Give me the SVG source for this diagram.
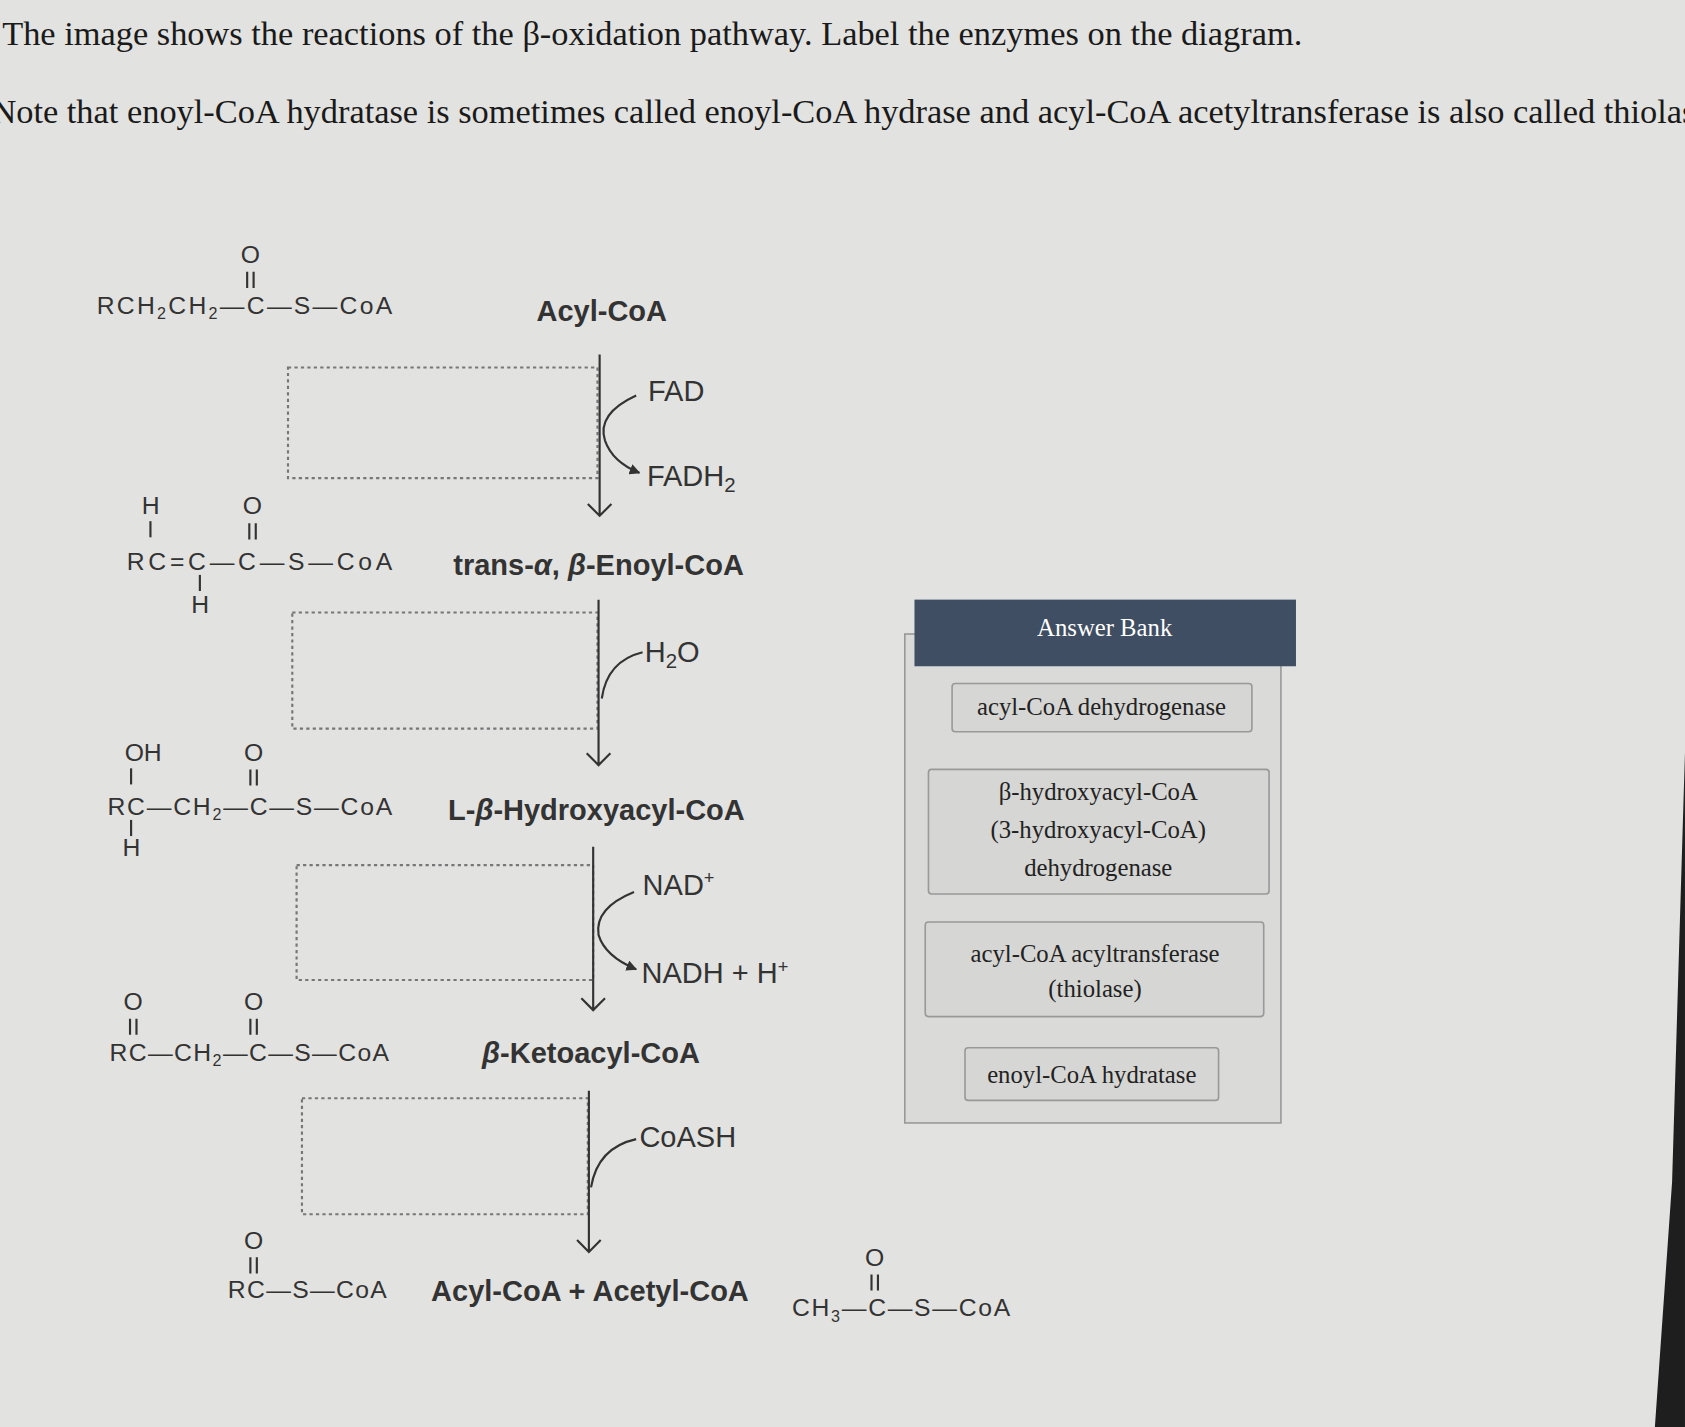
<svg xmlns="http://www.w3.org/2000/svg" width="1685" height="1427" viewBox="0 0 1685 1427">
<defs>
<style>
.t{font-family:"Liberation Serif",serif;font-size:32px;fill:#1a1a1a}
.c{font-family:"Liberation Sans",Arial,sans-serif;font-size:23px;fill:#333}
.b{font-family:"Liberation Sans",Arial,sans-serif;font-size:27px;font-weight:bold;fill:#333;text-anchor:middle}
.p{font-family:"Liberation Sans",Arial,sans-serif;font-size:27px;fill:#333}
.box{fill:none;stroke:#777;stroke-width:2;stroke-dasharray:3 3}
.ln{stroke:#333;stroke-width:2;fill:none}
.btn{fill:#d6d6d4;stroke:#999;stroke-width:1.5}
.bt{font-family:"Liberation Serif",serif;font-size:23px;fill:#222;text-anchor:middle}
</style>
<marker id="sh" viewBox="0 0 10 10" refX="9" refY="5" markerWidth="10" markerHeight="10" orient="auto" markerUnits="userSpaceOnUse">
<path d="M0 0 L10 5 L0 10 Z" fill="#333"/></marker>
</defs>
<rect width="1685" height="1427" fill="#e2e2e0"/>
<g transform="scale(1.0746)">
<polygon points="1568,700 1556,1100 1540,1328 1568,1328" fill="#1e1e1e"/>
<text class="t" x="2" y="42">The image shows the reactions of the β-oxidation pathway. Label the enzymes on the diagram.</text>
<text class="t" x="-8" y="114">Note that enoyl-CoA hydratase is sometimes called enoyl-CoA hydrase and acyl-CoA acetyltransferase is also called thiolase.</text>

<g id="s1"><text class="c" x="90" y="292" textLength="275" lengthAdjust="spacing">RCH<tspan font-size="15" dy="5">2</tspan><tspan dy="-5">CH</tspan><tspan font-size="15" dy="5">2</tspan><tspan dy="-5">—C—S—CoA</tspan></text>
<text class="c" x="224" y="245">O</text><path class="ln" d="M230 253V268M236 253V268" stroke-width="1.5"/>
<text class="b" x="560" y="299">Acyl-CoA</text></g>

<g id="s2"><text class="c" x="118" y="530" textLength="247" lengthAdjust="spacing">RC=C—C—S—CoA</text>
<text class="c" x="132" y="478">H</text><path class="ln" d="M140 485V500" stroke-width="1.5"/>
<text class="c" x="226" y="478">O</text><path class="ln" d="M232 487V502M238 487V502" stroke-width="1.5"/>
<path class="ln" d="M186 535V550" stroke-width="1.5"/><text class="c" x="178" y="570">H</text>
<text class="b" x="557" y="535">trans-<tspan font-style="italic">α</tspan>, <tspan font-style="italic">β</tspan>-Enoyl-CoA</text></g>

<g id="s3"><text class="c" x="100" y="758" textLength="265" lengthAdjust="spacing">RC—CH<tspan font-size="15" dy="5">2</tspan><tspan dy="-5">—C—S—CoA</tspan></text>
<text class="c" x="116" y="708">OH</text><path class="ln" d="M122 715V730" stroke-width="1.5"/>
<text class="c" x="227" y="708">O</text><path class="ln" d="M233 716V731M239 716V731" stroke-width="1.5"/>
<path class="ln" d="M122 763V778" stroke-width="1.5"/><text class="c" x="114" y="797">H</text>
<text class="b" x="555" y="763">L-<tspan font-style="italic">β</tspan>-Hydroxyacyl-CoA</text></g>

<g id="s4"><text class="c" x="102" y="987" textLength="260" lengthAdjust="spacing">RC—CH<tspan font-size="15" dy="5">2</tspan><tspan dy="-5">—C—S—CoA</tspan></text>
<text class="c" x="115" y="940">O</text><path class="ln" d="M121 948V963M127 948V963" stroke-width="1.5"/>
<text class="c" x="227" y="940">O</text><path class="ln" d="M233 948V963M239 948V963" stroke-width="1.5"/>
<text class="b" x="550" y="989"><tspan font-style="italic">β</tspan>-Ketoacyl-CoA</text></g>

<g id="s5"><text class="c" x="212" y="1208" textLength="148" lengthAdjust="spacing">RC—S—CoA</text>
<text class="c" x="227" y="1162">O</text><path class="ln" d="M233 1170V1185M239 1170V1185" stroke-width="1.5"/>
<text class="b" x="549" y="1211">Acyl-CoA + Acetyl-CoA</text>
<text class="c" x="737" y="1225" textLength="203" lengthAdjust="spacing">CH<tspan font-size="15" dy="5">3</tspan><tspan dy="-5">—C—S—CoA</tspan></text>
<text class="c" x="805" y="1178">O</text><path class="ln" d="M811 1186V1201M817 1186V1201" stroke-width="1.5"/></g>

<g id="boxes">
<rect class="box" x="268" y="342" width="288" height="103"/>
<rect class="box" x="272" y="570" width="284" height="108"/>
<rect class="box" x="276" y="805" width="276" height="107"/>
<rect class="box" x="281" y="1022" width="266" height="108"/>
</g>

<g id="connectors">
<path class="ln" d="M558 330V480M547 469L558 480L569 469"/>
<path class="ln" d="M592 368Q555 385 563 410Q570 430 595 440" marker-end="url(#sh)"/>
<path class="ln" d="M557 558V712M546 701L557 712L568 701"/>
<path class="ln" d="M598 607Q565 615 560 650"/>
<path class="ln" d="M552 788V940M541 929L552 940L563 929"/>
<path class="ln" d="M590 830Q553 845 557 870Q563 890 592 902" marker-end="url(#sh)"/>
<path class="ln" d="M548 1015V1165M537 1154L548 1165L559 1154"/>
<path class="ln" d="M592 1060Q556 1068 550 1105"/>
</g>
<g id="labels">
<text class="p" x="603" y="373">FAD</text>
<text class="p" x="602" y="452">FADH<tspan font-size="19" dy="6">2</tspan></text>
<text class="p" x="600" y="616">H<tspan font-size="19" dy="6">2</tspan><tspan dy="-6">O</tspan></text>
<text class="p" x="598" y="833">NAD<tspan font-size="17" dy="-10">+</tspan></text>
<text class="p" x="597" y="915">NADH + H<tspan font-size="17" dy="-10">+</tspan></text>
<text class="p" x="595" y="1067">CoASH</text>
</g>

<g id="answerbank">
<rect x="842" y="590" width="350" height="455" fill="#dadad8" stroke="#999" stroke-width="1.5"/>
<rect x="851" y="558" width="355" height="62" fill="#3f4e62"/>
<text class="bt" x="1028" y="592" style="fill:#fff">Answer Bank</text>
<rect class="btn" x="886" y="636" width="279" height="45" rx="3"/>
<text class="bt" x="1025" y="665">acyl-CoA dehydrogenase</text>
<rect class="btn" x="864" y="716" width="317" height="116" rx="3"/>
<text class="bt" x="1022" y="744">β-hydroxyacyl-CoA</text>
<text class="bt" x="1022" y="780">(3-hydroxyacyl-CoA)</text>
<text class="bt" x="1022" y="815">dehydrogenase</text>
<rect class="btn" x="861" y="858" width="315" height="88" rx="3"/>
<text class="bt" x="1019" y="895">acyl-CoA acyltransferase</text>
<text class="bt" x="1019" y="928">(thiolase)</text>
<rect class="btn" x="898" y="975" width="236" height="49" rx="3"/>
<text class="bt" x="1016" y="1008">enoyl-CoA hydratase</text>
</g>
</g>
</svg>
